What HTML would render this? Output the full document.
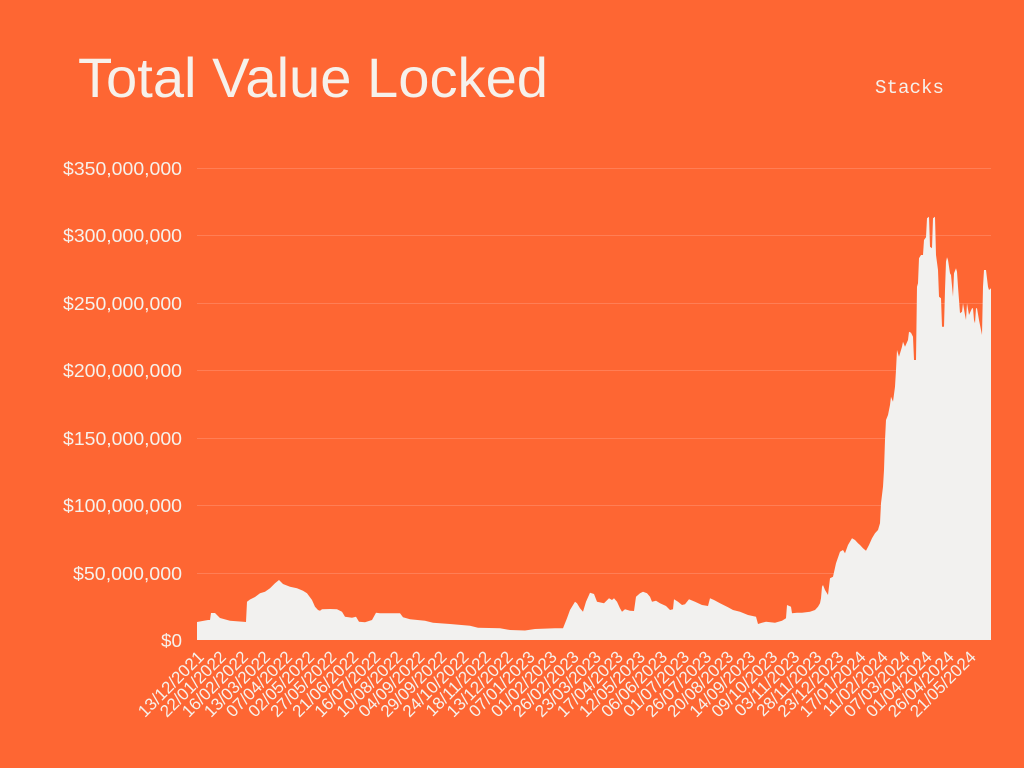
<!DOCTYPE html>
<html>
<head>
<meta charset="utf-8">
<style>
  html,body{margin:0;padding:0;background:#FE6633;}
  svg{display:block;}
  .yl{font-family:"Liberation Sans",sans-serif;font-size:18px;fill:#F6F1EB;text-anchor:end;}
  .xl{font-family:"Liberation Sans",sans-serif;font-size:17px;fill:#F6F1EB;text-anchor:end;}
</style>
</head>
<body>
<svg width="1024" height="768" viewBox="0 0 1024 768" xmlns="http://www.w3.org/2000/svg">
  <rect x="0" y="0" width="1024" height="768" fill="#FE6633"/>
  <text x="78" y="97" font-family="Liberation Sans, sans-serif" font-size="56" fill="#F6F1EB" textLength="470" lengthAdjust="spacingAndGlyphs">Total Value Locked</text>
  <text x="875" y="93" font-family="Liberation Mono, monospace" font-size="19" fill="#F6F1EB" textLength="69" lengthAdjust="spacingAndGlyphs">Stacks</text>

  <g stroke="#FF7E55" stroke-width="1">
    <line x1="197" y1="168.5" x2="991" y2="168.5"/>
    <line x1="197" y1="235.5" x2="991" y2="235.5"/>
    <line x1="197" y1="303.5" x2="991" y2="303.5"/>
    <line x1="197" y1="370.5" x2="991" y2="370.5"/>
    <line x1="197" y1="438.5" x2="991" y2="438.5"/>
    <line x1="197" y1="505.5" x2="991" y2="505.5"/>
    <line x1="197" y1="573.5" x2="991" y2="573.5"/>
  </g>

  <g class="yl">
    <text x="182" y="175" textLength="119" lengthAdjust="spacingAndGlyphs">$350,000,000</text>
    <text x="182" y="242" textLength="119" lengthAdjust="spacingAndGlyphs">$300,000,000</text>
    <text x="182" y="310" textLength="119" lengthAdjust="spacingAndGlyphs">$250,000,000</text>
    <text x="182" y="377" textLength="119" lengthAdjust="spacingAndGlyphs">$200,000,000</text>
    <text x="182" y="445" textLength="119" lengthAdjust="spacingAndGlyphs">$150,000,000</text>
    <text x="182" y="512" textLength="119" lengthAdjust="spacingAndGlyphs">$100,000,000</text>
    <text x="182" y="580" textLength="109" lengthAdjust="spacingAndGlyphs">$50,000,000</text>
    <text x="182" y="647" textLength="21" lengthAdjust="spacingAndGlyphs">$0</text>
  </g>

  <path fill="#F2F1EF" d="M197,640 L197,622 L208,620 L210,620 L211,613 L215,613 L220,618 L230,620.7 L243,621.7 L246,622 L247,601.7 L250,599.5 L255,597 L260,593.3 L265,591.7 L270,588.3 L275,583.3 L279,580 L283,584 L290,586.7 L297,588.3 L303,590.7 L307,593.3 L312,600 L315,606.7 L318,610 L320,610.7 L322,609.3 L330,609 L337,609.3 L342,611.7 L345,616.7 L352,617.7 L356,616.7 L359,621.7 L365,622.3 L372,620 L376,612.7 L380,613.3 L390,613.3 L400,613.3 L403,617.3 L410,619.3 L425,620.7 L433,622.7 L450,624 L470,625.7 L478,627.7 L500,628.3 L510,630 L525,630.5 L535,629 L555,628.3 L563,628.3 L567,618.3 L570,610 L575,601.7 L577,603.3 L580,608.3 L583,611.7 L586,601.7 L590,592.7 L594,594 L597,601.7 L604,603.3 L609,598.3 L612,600 L614,598.3 L617,601.7 L620,608.3 L622,611.7 L625,609.3 L630,610.7 L634,611 L636,596.7 L640,593.3 L643,591.7 L647,593.3 L650,596.7 L652,601.7 L656,600.7 L660,603.3 L666,606 L670,610 L673,609.3 L674,599.3 L678,601.7 L682,605 L685,604.3 L689,599.3 L695,601.7 L702,605 L708,606 L710,598.3 L714,600 L720,603.3 L728,607.3 L733,610 L740,611.7 L748,615 L756,616.7 L758,624 L762,622.7 L766,621.7 L775,622.7 L782,620.7 L786,618.3 L787,605 L791,606.7 L792,613.3 L797,612.7 L802,612.7 L810,611.7 L815,610 L818,606.7 L820,603.3 L821,598.3 L822,586.7 L823,585 L825,590 L828,595 L830,578.3 L833,576.7 L836,563.3 L840,551.7 L843,550 L845,553.3 L848,545 L852,538.3 L855,540 L858,543.3 L860,545 L863,548.3 L866,550.7 L869,545 L872,538.3 L875,533.3 L878,530 L880,523.3 L881,503.3 L883,486.7 L884,470 L885,440 L886,420 L888,415 L890,405 L891,396.7 L893,401.7 L895,386.7 L896,370 L897,350 L899,356.7 L902,346.7 L903,341.7 L905,346.7 L908,340 L909,331.7 L911,332.7 L913,336.7 L914,360 L916,360 L917,286.7 L918,283.3 L919,258.3 L921,255 L923,255 L924,240 L926,237.3 L927,218.3 L929,216.7 L930,246.7 L932,248.3 L933,218.3 L935,216.7 L936,255 L938,270 L939,296.7 L941,298.3 L942,326.7 L944,326.7 L945,290 L946,261.7 L947,257.3 L948,260 L950,273.3 L951,275 L953,296.7 L954,273.3 L956,268.3 L957,271.7 L958,286.7 L960,313.3 L962,311.7 L963,303.3 L965,315 L966,320 L967,303.3 L969,315 L972,308.3 L973,308.3 L974,320 L975,323.3 L976,308.3 L977,308.3 L979,320 L981,330 L982,335 L983,286.7 L984,270 L986,270 L988,286.7 L989,290 L991,288.3 L991,640 Z"/>

  <g class="xl">
    <text transform="translate(205,658) rotate(-45)">13/12/2021</text>
    <text transform="translate(227.1,658) rotate(-45)">22/01/2022</text>
    <text transform="translate(249.1,658) rotate(-45)">16/02/2022</text>
    <text transform="translate(271.2,658) rotate(-45)">13/03/2022</text>
    <text transform="translate(293.2,658) rotate(-45)">07/04/2022</text>
    <text transform="translate(315.3,658) rotate(-45)">02/05/2022</text>
    <text transform="translate(337.4,658) rotate(-45)">27/05/2022</text>
    <text transform="translate(359.4,658) rotate(-45)">21/06/2022</text>
    <text transform="translate(381.5,658) rotate(-45)">16/07/2022</text>
    <text transform="translate(403.5,658) rotate(-45)">10/08/2022</text>
    <text transform="translate(425.6,658) rotate(-45)">04/09/2022</text>
    <text transform="translate(447.7,658) rotate(-45)">29/09/2022</text>
    <text transform="translate(469.7,658) rotate(-45)">24/10/2022</text>
    <text transform="translate(491.8,658) rotate(-45)">18/11/2022</text>
    <text transform="translate(513.8,658) rotate(-45)">13/12/2022</text>
    <text transform="translate(535.9,658) rotate(-45)">07/01/2023</text>
    <text transform="translate(558,658) rotate(-45)">01/02/2023</text>
    <text transform="translate(580,658) rotate(-45)">26/02/2023</text>
    <text transform="translate(602.1,658) rotate(-45)">23/03/2023</text>
    <text transform="translate(624.1,658) rotate(-45)">17/04/2023</text>
    <text transform="translate(646.2,658) rotate(-45)">12/05/2023</text>
    <text transform="translate(668.3,658) rotate(-45)">06/06/2023</text>
    <text transform="translate(690.3,658) rotate(-45)">01/07/2023</text>
    <text transform="translate(712.4,658) rotate(-45)">26/07/2023</text>
    <text transform="translate(734.4,658) rotate(-45)">20/08/2023</text>
    <text transform="translate(756.5,658) rotate(-45)">14/09/2023</text>
    <text transform="translate(778.6,658) rotate(-45)">09/10/2023</text>
    <text transform="translate(800.6,658) rotate(-45)">03/11/2023</text>
    <text transform="translate(822.7,658) rotate(-45)">28/11/2023</text>
    <text transform="translate(844.7,658) rotate(-45)">23/12/2023</text>
    <text transform="translate(866.8,658) rotate(-45)">17/01/2024</text>
    <text transform="translate(888.9,658) rotate(-45)">11/02/2024</text>
    <text transform="translate(910.9,658) rotate(-45)">07/03/2024</text>
    <text transform="translate(933,658) rotate(-45)">01/04/2024</text>
    <text transform="translate(955,658) rotate(-45)">26/04/2024</text>
    <text transform="translate(977,658) rotate(-45)">21/05/2024</text>
  </g>
</svg>
</body>
</html>
